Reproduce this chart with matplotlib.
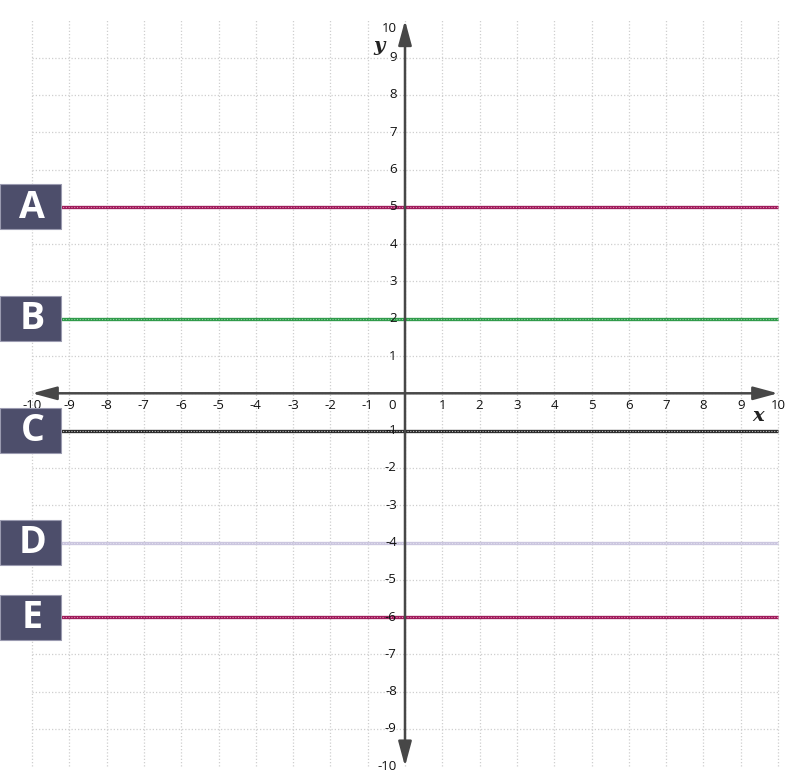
import numpy as np
import matplotlib.pyplot as plt
from matplotlib.patches import Rectangle

plt.rcParams['font.family'] = ['Open Sans', 'DejaVu Sans']

# horizontal lines y = c
labels = ['A', 'B', 'C', 'D', 'E']
y_values = [5, 2, -1, -4, -6]
line_colors = ['#9e1a5a', '#2f9a4a', '#2a2a2a', '#cbc6df', '#9e1a5a']
dot_colors = ['#e08ab0', '#8fd39f', '#bdbdbd', '#e4e1f0', '#e08ab0']

ticks = list(range(-10, 11))

fig = plt.figure(figsize=(8, 7.81), dpi=100)
ax = fig.add_axes([0, 0, 1, 1])
ax.set_xlim(-405 / 37.3, (800 - 405) / 37.3)
ax.set_ylim(-(781 - 393.3) / 37.3, 393.3 / 37.3)
ax.axis('off')

# dotted grid
for t in ticks:
    ax.plot([t, t], [-10, 10], color='#cfcfcf', lw=0.9, ls=(0, (1, 1.6)), zorder=1)
for t in ticks[1:-1]:
    ax.plot([-10, 10], [t, t], color='#cfcfcf', lw=0.9, ls=(0, (1, 1.6)), zorder=1)

# the lines
for y, c, d in zip(y_values, line_colors, dot_colors):
    ax.plot([-10, 10], [y, y], color=c, lw=2.4, solid_capstyle='butt', zorder=3)
    ax.plot([-10, 10], [y, y], color=d, lw=0.8, ls=(0, (1, 1.5)), zorder=3)

# axes with arrows
arrow = dict(arrowstyle='<|-|>,head_length=1.0,head_width=0.27', color='#474747',
             lw=1.8, shrinkA=0, shrinkB=0, mutation_scale=15)
ax.annotate('', xy=(10, 0), xytext=(-10, 0), arrowprops=arrow, zorder=4)
ax.annotate('', xy=(0, 10), xytext=(0, -10), arrowprops=arrow, zorder=4)

# tick labels
fs = 9.5
for t in ticks:
    if t == 0:
        continue
    ax.text(t, -0.33, str(t), ha='center', va='center', fontsize=fs, color='#111', zorder=5)
for t in ticks:
    if t == 0:
        continue
    yy = 9.78 if t == 10 else t
    ax.text(-0.22, yy, str(t), ha='right', va='center', fontsize=fs, color='#111', zorder=5)
ax.text(-0.25, -0.33, '0', ha='right', va='center', fontsize=fs, color='#111', zorder=5)

ax.text(9.48, -0.62, 'x', fontsize=14, style='italic', fontweight='bold',
        family='DejaVu Serif', ha='center', va='center', color='#222')
ax.text(-0.7, 9.3, 'y', fontsize=14, style='italic', fontweight='bold',
        family='DejaVu Serif', ha='center', va='center', color='#222')

# letter boxes
x0 = ax.get_xlim()[0]
bw, bh = 61 / 37.3, 45 / 37.3
for lab, y in zip(labels, y_values):
    ax.add_patch(Rectangle((x0, y - bh / 2), bw, bh, facecolor='#4d4e6b',
                           edgecolor='#9a9ab0', lw=0.8, zorder=6))
    ax.text(x0 + bw / 2 + 0.05, y - 0.02, lab, ha='center', va='center', fontsize=27,
            fontweight='bold', color='white', zorder=7)

fig.savefig('out.png', dpi=100)
